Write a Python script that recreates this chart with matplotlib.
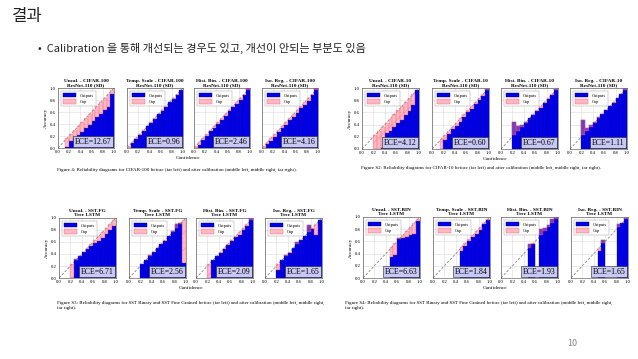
import numpy as np
import matplotlib
matplotlib.use('Agg')
import matplotlib.pyplot as plt
from matplotlib.patches import Patch

plt.rcParams['hatch.linewidth'] = 0.25
plt.rcParams['hatch.color'] = '#f08a8a'

W, H = 638, 359
nan = np.nan

# 15 confidence bins
n_bins = 15
ticks = [0.0, 0.2, 0.4, 0.6, 0.8, 1.0]
tick_labels = ['0.0', '0.2', '0.4', '0.6', '0.8', '1.0']

# accuracy per bin (nan = empty bin)
acc_c100_uncal = [nan, nan, 0.02, 0.12, 0.17, 0.22, 0.27, 0.33, 0.39, 0.45, 0.51, 0.57, 0.63, 0.69, 0.90]
acc_c100_temp = [0.0, 0.08, 0.15, 0.22, 0.29, 0.36, 0.42, 0.49, 0.56, 0.62, 0.69, 0.76, 0.82, 0.89, 0.97]
acc_c100_hist = [0.0, 0.05, 0.13, 0.20, 0.28, 0.34, 0.40, 0.47, 0.54, 0.61, 0.68, 0.74, 0.80, 0.88, 1.0]
acc_c100_iso = [0.0, 0.06, 0.12, 0.19, 0.26, 0.33, 0.39, 0.46, 0.52, 0.59, 0.66, 0.72, 0.79, 0.88, 1.0]

acc_c10_uncal = [nan, nan, nan, 0.0, 0.0, 0.02, 0.26, 0.30, 0.36, 0.42, 0.48, 0.55, 0.62, 0.72, 0.97]
acc_c10_temp = [nan, nan, 0.0, 0.15, 0.25, 0.33, 0.38, 0.45, 0.52, 0.60, 0.66, 0.73, 0.80, 0.87, 0.98]
acc_c10_hist = [nan, nan, nan, 0.45, 0.38, 0.40, 0.44, 0.50, 0.55, 0.62, 0.68, 0.75, 0.82, 0.88, 0.99]
acc_c10_iso = [nan, nan, nan, 0.47, 0.35, 0.40, 0.45, 0.52, 0.58, 0.64, 0.70, 0.76, 0.83, 0.90, 1.0]

acc_fg_uncal = [nan, nan, nan, 0.0, 0.32, 0.37, 0.43, 0.48, 0.53, 0.58, 0.62, 0.67, 0.73, 0.80, 0.87]
acc_fg_temp = [nan, nan, nan, 0.23, 0.30, 0.38, 0.44, 0.50, 0.56, 0.62, 0.70, 0.78, 0.90, 0.92, 0.25]
acc_fg_hist = [nan, nan, nan, 0.0, 0.30, 0.36, 0.42, 0.48, 0.55, 0.62, 0.68, 0.72, 0.80, 0.86, 1.0]
acc_fg_iso = [nan, nan, nan, 0.13, 0.30, 0.38, 0.42, 0.50, 0.60, 0.63, 0.70, 0.88, 0.82, 0.72, 0.97]

acc_bin_uncal = [nan] * 7 + [0.35, 0.38, 0.65, 0.65, 0.67, 0.70, 0.72, 0.93]
acc_bin_temp = [nan] * 7 + [0.45, 0.53, 0.60, 0.68, 0.72, 0.78, 0.88, 0.95]
acc_bin_hist = [nan] * 7 + [0.55, 0.56, nan, 0.80, 0.82, 0.87, 0.97, 1.0]
acc_bin_iso = [nan] * 7 + [0.44, 0.63, nan, nan, nan, 0.88, 0.90, 0.98]

ece_c100 = ['12.67', '0.96', '2.46', '4.16']
ece_c10 = ['4.12', '0.60', '0.67', '1.11']
ece_fg = ['6.71', '2.56', '2.09', '1.65']
ece_bin = ['6.63', '1.84', '1.93', '1.65']

methods = ['Uncal.', 'Temp. Scale', 'Hist. Bin.', 'Iso. Reg.']

groups = [
    # dataset, model, accs, eces, lefts, top, w, h, caption, caption x, caption y
    ('CIFAR-100', 'ResNet-110 (SD)', [acc_c100_uncal, acc_c100_temp, acc_c100_hist, acc_c100_iso], ece_c100,
     [58, 127, 194, 262], 88, 56, 60,
     'Figure 4: Reliability diagrams for CIFAR-100 before (far left) and after calibration (middle left, middle right, far right).',
     57, 168),
    ('CIFAR-10', 'ResNet-110 (SD)', [acc_c10_uncal, acc_c10_temp, acc_c10_hist, acc_c10_iso], ece_c10,
     [362, 432, 501, 570], 88, 57, 61,
     'Figure S2: Reliability diagrams for CIFAR-10 before (far left) and after calibration (middle left, middle right, far right).',
     361, 166),
    ('SST-FG', 'Tree LSTM', [acc_fg_uncal, acc_fg_temp, acc_fg_hist, acc_fg_iso], ece_fg,
     [59, 129, 196, 265], 218, 57, 60,
     'Figure S3: Reliability diagrams for SST Binary and SST Fine Grained before (far left) and after calibration (middle left, middle right,\nfar right).',
     57, 301),
    ('SST-BIN', 'Tree LSTM', [acc_bin_uncal, acc_bin_temp, acc_bin_hist, acc_bin_iso], ece_bin,
     [363, 433, 501, 571], 217, 57, 61,
     'Figure S4: Reliability diagrams for SST Binary and SST Fine Grained before (far left) and after calibration (middle left, middle right,\nfar right).',
     345, 301),
]

serif = 'Liberation Serif'
kr = ['Noto Sans CJK KR', 'DejaVu Sans']

fig = plt.figure(figsize=(W / 100, H / 100), dpi=100)
fig.patch.set_facecolor('white')

# slide header
fig.text(12 / W, 1 - 16 / H, '결과', fontsize=12, family=kr, va='center', ha='left', color='#222222')
fig.text(38 / W, 1 - 48 / H, '•  Calibration 을 통해 개선되는 경우도 있고, 개선이 안되는 부분도 있음', fontsize=8,
         family=kr, va='center', ha='left', color='#222222')
fig.text(572 / W, 1 - 343 / H, '10', fontsize=6.5, family=kr, va='center', ha='center', color='#888888')

edges = np.linspace(0, 1, n_bins + 1)
centers = (edges[:-1] + edges[1:]) / 2
bw = 1.0 / n_bins

for dataset, model, accs, eces, lefts, top, w, h, caption, cx, cy in groups:
    for k, (acc, ece, left) in enumerate(zip(accs, eces, lefts)):
        ax = fig.add_axes([left / W, 1 - (top + h) / H, w / W, h / H])
        acc = np.array(acc, dtype=float)
        ok = ~np.isnan(acc)
        ax.grid(True, color='#dcdcdc', lw=0.4)
        ax.set_axisbelow(True)
        ax.plot([0, 1], [0, 1], ls=(0, (3, 2)), color='#888888', lw=0.6, zorder=1)
        ax.bar(centers[ok], acc[ok], width=bw, color='#0000ee', edgecolor='#000066', lw=0.2, zorder=2)
        ax.bar(centers[ok], centers[ok] - acc[ok], bottom=acc[ok], width=bw,
               color=(1.0, 0.45, 0.55, 0.5), edgecolor=(0.95, 0.4, 0.45, 0.8), lw=0.25, hatch='//', zorder=3)
        ax.set_xlim(0, 1)
        ax.set_ylim(0, 1)
        ax.set_xticks(ticks)
        ax.set_xticklabels(tick_labels, fontsize=3.4, family=serif)
        ax.set_yticks(ticks)
        if k == 0:
            ax.set_yticklabels(tick_labels, fontsize=3.4, family=serif)
            ax.set_ylabel('Accuracy', fontsize=3.8, family=serif, labelpad=1.5)
        else:
            ax.set_yticklabels([])
        ax.tick_params(length=0, pad=1.5)
        for s in ax.spines.values():
            s.set_linewidth(0.4)
            s.set_color('#444444')
        ax.set_title(f'{methods[k]} - {dataset}\n{model}', fontsize=3.8, family=serif,
                     fontweight='bold', pad=1.5, linespacing=1.0)
        leg = ax.legend(handles=[Patch(facecolor='#0000ee', edgecolor='#000066', lw=0.3, label='Outputs'),
                                 Patch(facecolor='#ffb8c4', edgecolor='#e06070', lw=0.3, label='Gap')],
                        loc='upper left', prop={'family': serif, 'size': 3.2},
                        handlelength=3.0, handleheight=1.1, borderpad=0.5, labelspacing=0.4,
                        borderaxespad=0.6, framealpha=1.0, fancybox=False, edgecolor='#999999')
        leg.get_frame().set_linewidth(0.3)
        ax.text(0.95, 0.04, f'ECE={ece}', transform=ax.transAxes, ha='right', va='bottom',
                fontsize=5.6, family=serif, zorder=5,
                bbox=dict(boxstyle='square,pad=0.2', facecolor='#c8c8f4', edgecolor='#222222', lw=0.4))
    # shared x label
    mid = (lefts[1] + w + lefts[2]) / 2
    fig.text(mid / W, 1 - (top + h + 10) / H, 'Confidence', fontsize=3.8, family=serif,
             ha='center', va='center')
    fig.text(cx / W, 1 - cy / H, caption, fontsize=3.6, family=serif, ha='left', va='top',
             linespacing=1.3)

fig.savefig('out.png', dpi=100)
